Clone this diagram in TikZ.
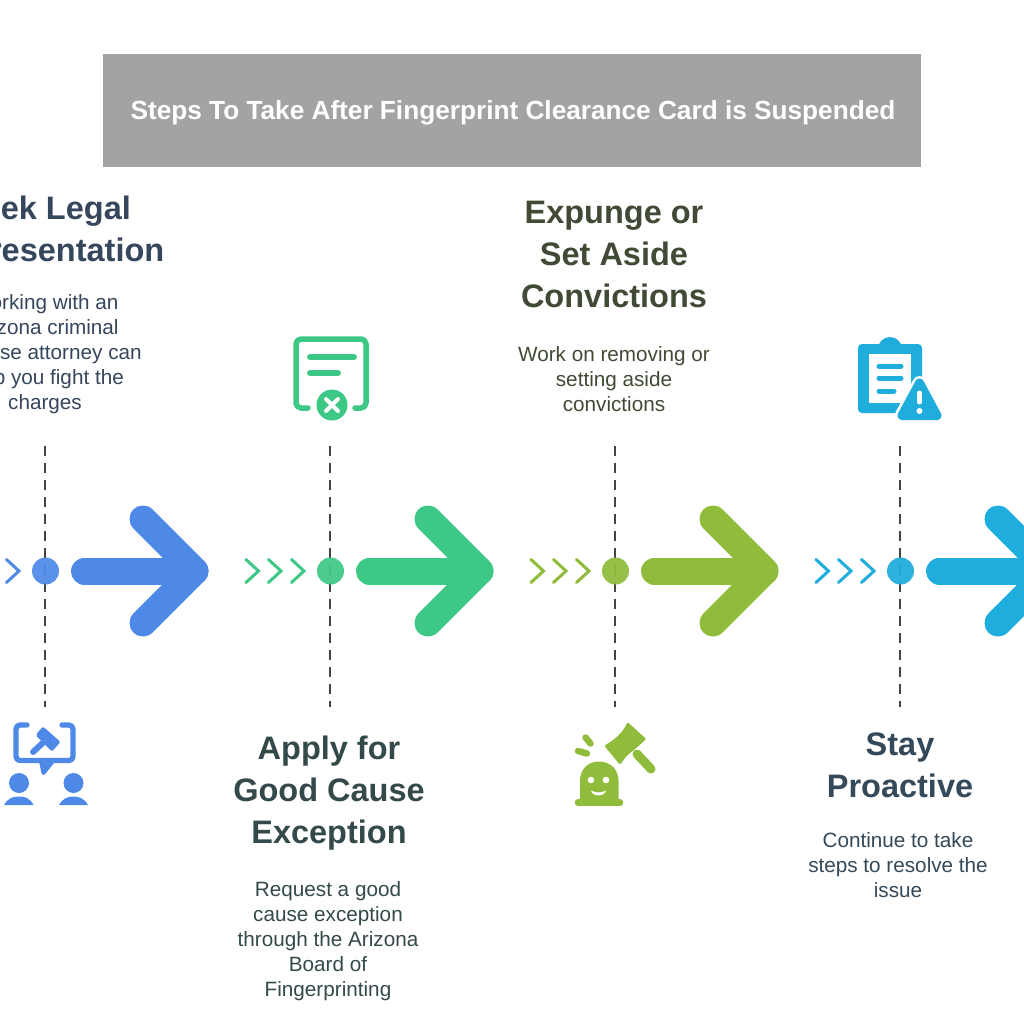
\documentclass[tikz,border=0pt]{standalone}
\usepackage{fontspec}
\setmainfont{Liberation Sans}
\definecolor{cblue}{HTML}{4E89E8}
\definecolor{cgreen}{HTML}{3EC885}
\definecolor{clime}{HTML}{8FBC3A}
\definecolor{ccyan}{HTML}{1EADDC}
\definecolor{tblue}{HTML}{36465C}
\definecolor{tgreen}{HTML}{34494A}
\definecolor{tlime}{HTML}{414A35}
\definecolor{tcyan}{HTML}{34495A}
\definecolor{bar}{HTML}{A3A3A3}
\definecolor{dashc}{HTML}{444444}
\tikzset{
  x=1pt,y=-1pt,
  titlebar/.style={fill=bar,draw=none,minimum width=818pt,minimum height=113pt,inner sep=0pt},
  titletext/.style={text=white,font=\fontsize{26.2}{32}\selectfont\bfseries,inner sep=0pt},
  headtext/.style={align=center,inner sep=0pt,font=\fontsize{32.5}{42}\selectfont\bfseries},
  bodytext/.style={align=center,inner sep=0pt,font=\fontsize{20.7}{25}\selectfont},
  guide/.style={draw=dashc,line width=2.8pt,dash pattern=on 10pt off 7pt},
  bigarrow/.style={line width=27pt,line cap=round,line join=round},
  chev/.style={line width=3pt,line cap=round,line join=miter},
  stepdot/.style={circle,minimum size=27pt,inner sep=0pt,opacity=.93},
}
\newcommand{\stepmark}[3]{%
  \coordinate (g#1a) at (#2,446);
  \coordinate (g#1b) at (#2,707);
  \draw[guide] (g#1a) -- (g#1b);
  \node[stepdot,fill=#3] (dot#1) at (#2+.5,571) {};
  \coordinate (as#1) at (#2+39.5,571);
  \coordinate (at#1) at (#2+150,571);
  \coordinate (au#1) at (#2+98,519);
  \coordinate (av#1) at (#2+98,623);
  \draw[bigarrow,draw=#3] (as#1) -- (at#1);
  \draw[bigarrow,draw=#3] (au#1) -- (at#1) -- (av#1);
  \foreach \d in {-84,-61.5,-38.5}{
    \draw[chev,draw=#3] (#2+\d,559.5) -- (#2+\d+12.5,571) -- (#2+\d,582.5);
  }
}
\begin{document}
\begin{tikzpicture}
\useasboundingbox (0,0) rectangle (1024,1024);
\clip (0,0) rectangle (1024,1024);
\fill[white] (0,0) rectangle (1024,1024);
\node[titlebar] (bar) at (512,110.5) {};
\node[titletext] (title) at (513,113) {Steps To Take After Fingerprint Clearance Card is Suspended};

\stepmark{1}{45}{cblue}
\stepmark{2}{330}{cgreen}
\stepmark{3}{615}{clime}
\stepmark{4}{900}{ccyan}

% texts
\node[headtext,text=tblue] (h1) at (46,232) {Seek Legal\\Representation};
\node[bodytext,text=tblue] (b1) at (45,354) {Working with an\\Arizona criminal\\defense attorney can\\help you fight the\\charges};
\node[headtext,text=tgreen] (h2) at (329,793) {Apply for\\Good Cause\\Exception};
\node[bodytext,text=tgreen] (b2) at (328,941) {Request a good\\cause exception\\through the Arizona\\Board of\\Fingerprinting};
\node[headtext,text=tlime] (h3) at (614,254) {Expunge or\\Set Aside\\Convictions};
\node[bodytext,text=tlime] (b3) at (614,379) {Work on removing or\\setting aside\\convictions};
\node[headtext,text=tcyan] (h4) at (900,765) {Stay\\Proactive};
\node[bodytext,text=tcyan] (b4) at (898,865) {Continue to take\\steps to resolve the\\issue};

% icon 1
\begin{scope}[cblue]
\draw[fill,line width=4pt,line join=round] (41,761) -- (43.5,773) -- (53,761) -- cycle;
\draw[line width=5.3pt,line cap=round,line join=round,rounded corners=4pt]
  (27,725) -- (16,725) -- (16,760.5) -- (73,760.5) -- (73,725) -- (62,725);
\fill[rounded corners=2pt] (43,726.5) -- (60.5,742) -- (52,751.5) -- (35.5,735) -- cycle;
\draw[line width=6pt,line cap=round] (33,752) -- (46,740);
\fill (19,783) circle (10);
\fill (73.5,783) circle (10);
\fill (4,805) .. controls (8,798) and (13,796.5) .. (19,796.5) .. controls (25,796.5) and (30,798) .. (33.5,805) -- cycle;
\fill (59,805) .. controls (63,798) and (68,796.5) .. (73.5,796.5) .. controls (79,796.5) and (84,798) .. (88,805) -- cycle;
\end{scope}

% icon 2
\begin{scope}[cgreen]
\draw[line width=5.5pt,line cap=round,line join=round,rounded corners=5pt]
  (308,408) -- (296,408) -- (296,339) -- (366,339) -- (366,408) -- (355,408);
\draw[line width=6pt,line cap=round] (310,357) -- (354,357);
\draw[line width=6pt,line cap=round] (310,373) -- (338,373);
\fill (332,405) circle (15.5);
\draw[white,line width=4pt,line cap=round] (326,399) -- (338,411) (338,399) -- (326,411);
\end{scope}

% icon 3
\begin{scope}[clime]
\fill (580,800) -- (580,781) .. controls (580,769) and (588,761.5) .. (599,761.5) .. controls (610,761.5) and (618.5,769) .. (618.5,781) -- (618.5,800) -- cycle;
\draw[line width=6.5pt,line cap=round] (578,802.5) -- (620,802.5);
\fill[white] (591,780) circle (3.3) (606,780) circle (3.3);
\fill[white] (591,790.5) .. controls (596,793) and (601,793) .. (606,790.5) .. controls (605,797) and (592,797) .. (591,790.5) -- cycle;
\draw[fill,line width=3pt,line join=round] (628,724.5) -- (644,739) -- (634,748) .. controls (628,752) and (623,757) .. (620,762.5) -- (606.5,746) .. controls (614,742) and (624,734) .. (628,724.5) -- cycle;
\draw[line width=9pt,line cap=round] (637,754) -- (651,769);
\draw[line width=6.5pt,line cap=round] (585.5,737.5) -- (590.5,743.5);
\draw[line width=6.5pt,line cap=round] (578,751) -- (587,753.5);
\end{scope}

% icon 4
\begin{scope}[ccyan]
\fill[rounded corners=4pt] (858,344) rectangle (922,413);
\fill (890,349) circle (12);
\fill[white] (869,354) rectangle (911,403);
\draw[line width=5pt,line cap=round] (879,366) -- (901,366) (879,378) -- (901,378) (879,391) -- (894,391);
\draw[white,line width=14pt,line join=round] (919.5,383) -- (902,415) -- (937,415) -- cycle;
\draw[line join=round,line width=9pt,fill] (919.5,383) -- (902,415.5) -- (937,415.5) -- cycle;
\draw[white,line width=5pt,line cap=round] (919.5,393) -- (919.5,402);
\fill[white] (919.5,411) circle (3);
\end{scope}
\end{tikzpicture}
\end{document}
